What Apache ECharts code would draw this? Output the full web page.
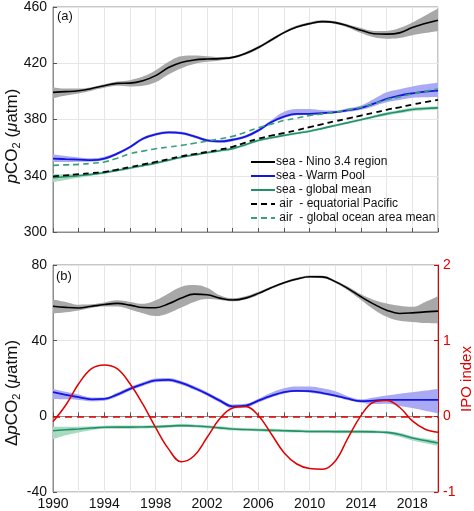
<!DOCTYPE html>
<html>
<head>
<meta charset="utf-8">
<script src="https://cdn.jsdelivr.net/npm/echarts@6/dist/echarts.min.js"></script>
<style>
  html, body { margin: 0; padding: 0; background: #fff; }
  #main { width: 474px; height: 511px; }
</style>
</head>
<body>
<div id="main"></div>
<script>
var years = ['1990','1991','1992','1993','1994','1995','1996','1997','1998','1999',
             '2000','2001','2002','2003','2004','2005','2006','2007','2008','2009',
             '2010','2011','2012','2013','2014','2015','2016','2017','2018','2019','2020'];

// (a) pCO2, uatm
var ninoSea = [399.3,399.8,400.5,402,404,405.7,405.9,407.6,411.2,417,420.6,422.3,423,423.3,424.2,427,431.2,436.5,441.8,445.8,448.2,449.6,448.9,446.5,443.5,441,440.7,441.6,445.4,448.2,450.6];
var ninoSeaLo = [395,397,398.5,400.5,402.5,404,403.5,404,406.5,412,416.5,419.5,421,422,423.3,426,430.2,435.5,441,445,447.3,448.8,448,445.3,441.5,438.5,437.5,438,440,441.5,443];
var ninoSeaHi = [403,402,402,403,405,407,408,410.5,415,421,425,425.5,425,424.5,425,428,432.2,437.5,442.8,446.8,449.2,450.5,449.8,447.5,445,443,443,445,449,454,459];

var poolSea = [352.2,351.8,351.5,351.1,352.2,355.7,360.4,366.3,369.4,370.8,370.3,368,365.1,364.4,365.6,367.8,372.2,378.1,382.1,384,384,384.5,385.2,386.6,388.3,391.3,394.7,397,398.6,399.8,400.5];
var poolSeaLo = [349.8,349.8,350,350,351.2,354.7,359.4,365.3,368.4,369.8,369.3,367,364.1,363.4,364.6,366.8,371.2,377.1,381,383,383.2,383.8,384.5,385.5,387,389.5,392.3,393.8,395.4,395.8,396];
var poolSeaHi = [355.3,354,353,352.5,353.5,356.7,361.4,367.3,370.4,371.8,371.3,369,366.1,365.4,366.6,368.8,373.4,379.5,385.5,387.5,387.5,386.5,386.3,388,390,394.5,399.3,401.5,403.4,405,406.4];

var globSea = [338.7,339.3,340,341,342.1,343.8,345.5,347.2,349,351.1,353.2,354.8,356.4,357.8,359.3,362,365.1,367,368.7,370.2,371.7,373.7,375.8,377.8,379.8,382,384,385.6,387.1,387.8,388.3];
var globSeaLo = [335.5,337,338.5,340.2,341.3,343,344.7,346.4,348.2,350.3,352.4,354,355.6,357,358.5,361.2,364.3,366.2,367.9,369.4,370.9,372.9,375,377,379,381,382.8,384.4,385.9,386.6,387.1];
var globSeaHi = [341.5,341,341,341.8,342.9,344.6,346.3,348,349.8,351.9,354,355.6,357.2,358.6,360.1,362.8,365.9,367.8,369.5,371,372.5,374.5,376.6,378.6,380.6,383,385.2,386.8,388.3,389,389.5];

var airEqPac = [339.6,340.3,341.1,341.9,342.7,344.4,346.2,348,349.8,351.8,353.8,355.4,356.9,358.6,360.6,363.6,366.4,368.5,370.4,372.4,374.6,376.7,378.8,380.8,382.8,384.8,386.9,388.7,390.6,392.3,394];
var airGlobal = [347.4,347.7,348.1,348.8,349.8,352.5,355.7,357.5,359.2,360.4,361.6,363.1,364.6,366.3,368,371,374.1,376.7,379.3,381,382.8,384,385.2,387,388.7,391.3,394,396.1,398.2,400,401.7];

// (b) delta pCO2, uatm
var ninoDelta = [58.2,57.6,57.3,58.2,59.1,59.7,58.8,57.5,57.4,59.5,62.5,64.6,64.3,62.5,61.5,62.5,65,68,70.6,72.6,73.8,73.7,71.2,67.5,63.2,59.3,56.1,54.4,54.7,55.2,55.6];
var ninoDeltaLo = [54.4,55,56,57.3,58,58,56.5,54.5,53,54.5,57.5,60.5,62,61.5,60.8,61.8,64.2,67.3,70,72,73.2,73,70.5,66.5,61.5,56.5,52.6,50.5,49.9,49.3,49];
var ninoDeltaHi = [61.8,60.5,59,59.2,60.2,61.3,60.5,59.5,61.4,65,68.5,69.4,68,64,62.5,63.5,65.8,68.7,71.2,73.2,74.4,74.3,71.8,68.5,64.5,61.5,59.7,58.5,57.9,60.5,63.5];

var poolDelta = [12.8,11.3,10.1,9,9.2,11.5,14.5,17,19,19.3,17.7,15,11.9,8.3,5.3,5.6,8.3,10.8,12.8,13.5,13.3,12.3,11,9.3,8,8.3,8.7,8.7,8.7,8.7,8.7];
var poolDeltaLo = [9.2,9,8.7,8,8.3,10.5,13.5,16,18,18.3,16.7,14,10.9,7.3,4.3,4.6,7.3,10,12,12.8,12.5,11.5,10.2,8.5,7.2,6.5,6.7,5.5,4.4,3,1.6];
var poolDeltaHi = [14.5,13,11.5,10,10,12.5,15.5,18,20,20.3,18.7,16,12.9,9.3,6.3,6.6,9.3,12.5,14.8,15.8,15.8,14.8,13.2,10.5,9,10,11,12,12.7,13.6,14.5];

var globDelta = [-7.6,-7.1,-6.7,-6.2,-5.8,-5.7,-5.7,-5.6,-5.5,-5.2,-4.9,-5.1,-5.5,-6.1,-6.7,-7,-7.2,-7.4,-7.6,-7.8,-8,-8,-8.1,-8.1,-8.1,-8.2,-8.5,-9.6,-11.5,-12.8,-14.1];
var globDeltaLo = [-12,-10,-8.5,-7.3,-6.6,-6.5,-6.5,-6.4,-6.3,-6,-5.7,-5.9,-6.3,-6.9,-7.5,-7.8,-8,-8.2,-8.4,-8.6,-8.8,-8.8,-8.9,-8.9,-8.9,-9,-9.3,-10.8,-12.8,-14.2,-15.6];
var globDeltaHi = [-5.5,-5.5,-5.5,-5.3,-5,-4.9,-4.9,-4.8,-4.7,-4.4,-4.1,-4.3,-4.7,-5.3,-5.9,-6.2,-6.4,-6.6,-6.8,-7,-7.2,-7.2,-7.3,-7.3,-7.3,-7.4,-7.8,-8.7,-10.5,-11.7,-12.9];

// IPO index (right axis)
var ipo = [-0.07,0.15,0.43,0.63,0.68,0.63,0.43,0.16,-0.15,-0.43,-0.6,-0.52,-0.28,-0.03,0.11,0.13,0.01,-0.23,-0.48,-0.63,-0.69,-0.7,-0.59,-0.28,0.01,0.19,0.21,0.12,-0.06,-0.17,-0.21];

var yTicksTop = [300, 340, 380, 420, 460];
var yTicksBot = [-40, 0, 40, 80];
var ipoTicks = [-1, 0, 1, 2];

var FONT = '"Liberation Sans", Arial, Helvetica, sans-serif';
var GRIDC = '#e6e6e6';
var AXC = '#8c8c8c';
var RED = '#e00000';

var chart = echarts.init(document.getElementById('main'), null, {renderer: 'canvas'});

function band(name, lo, hi, color, xi, yi) {
  var diff = hi.map(function (h, i) { return +(h - lo[i]).toFixed(3); });
  var common = {
    type: 'line', xAxisIndex: xi, yAxisIndex: yi, stack: name, stackStrategy: 'all',
    symbol: 'none', smooth: 0.4, silent: true, z: 1,
    lineStyle: { opacity: 0 }
  };
  return [
    Object.assign({ name: name + '_lo', data: lo }, common),
    Object.assign({ name: name + '_band', data: diff, areaStyle: { color: color, opacity: 1 } }, common)
  ];
}

function line(name, data, color, width, xi, yi, dashed) {
  return {
    name: name, type: 'line', xAxisIndex: xi, yAxisIndex: yi, data: data,
    symbol: 'none', smooth: 0.4, z: 3,
    itemStyle: { color: color },
    lineStyle: { color: color, width: width, type: dashed ? [6, 4] : 'solid' }
  };
}

var GRAY_BAND = '#a8a8a8';
var BLUE_BAND = '#a9a9f4';
var GREEN_BAND = '#a8dcc2';
var BLACK = '#000000';
var BLUE = '#1515e0';
var GREEN = '#24906a';
var GREEN_D = '#35a07a';

var series = [].concat(
  band('a_nino', ninoSeaLo, ninoSeaHi, GRAY_BAND, 0, 0),
  band('a_pool', poolSeaLo, poolSeaHi, BLUE_BAND, 0, 0),
  band('a_glob', globSeaLo, globSeaHi, GREEN_BAND, 0, 0),
  [
    line('sea - Nino 3.4 region', ninoSea, BLACK, 1.6, 0, 0),
    line('sea - Warm Pool', poolSea, BLUE, 1.8, 0, 0),
    line('sea - global mean', globSea, GREEN, 1.6, 0, 0),
    line(' air  - equatorial Pacific', airEqPac, BLACK, 1.8, 0, 0, true),
    line(' air  - global ocean area mean', airGlobal, GREEN_D, 1.6, 0, 0, true)
  ],
  band('b_nino', ninoDeltaLo, ninoDeltaHi, GRAY_BAND, 1, 1),
  band('b_pool', poolDeltaLo, poolDeltaHi, BLUE_BAND, 1, 1),
  band('b_glob', globDeltaLo, globDeltaHi, GREEN_BAND, 1, 1),
  [
    line('Δ Nino 3.4', ninoDelta, BLACK, 1.6, 1, 1),
    line('Δ Warm Pool', poolDelta, BLUE, 1.8, 1, 1),
    line('Δ global mean', globDelta, GREEN, 1.6, 1, 1)
  ]
);

var ipoSeries = line('IPO index', ipo, RED, 1.5, 1, 2);
ipoSeries.markLine = {
  silent: true, symbol: 'none', label: { show: false },
  lineStyle: { color: RED, type: [7, 5], width: 1.6 },
  data: [{ yAxis: 0 }]
};
series.push(ipoSeries);

function xAxis(gridIndex, showLabels) {
  return {
    type: 'category', gridIndex: gridIndex, data: years, boundaryGap: false,
    axisLine: { lineStyle: { color: AXC } },
    axisTick: { inside: true, length: 4, interval: 1, lineStyle: { color: '#555' } },
    axisLabel: { show: showLabels, interval: 3, color: '#111', fontSize: 14, fontFamily: FONT, margin: 5 },
    splitLine: { show: true, interval: 1, lineStyle: { color: GRIDC } }
  };
}

function yAxisLeft(gridIndex, ticks) {
  return {
    type: 'value', gridIndex: gridIndex, position: 'left',
    min: ticks[0], max: ticks[ticks.length - 1], interval: ticks[1] - ticks[0],
    axisLine: { show: true, lineStyle: { color: AXC } },
    axisTick: { show: true, inside: true, length: 4, lineStyle: { color: '#555' } },
    axisLabel: { color: '#111', fontSize: 14, fontFamily: FONT, margin: 6 },
    splitLine: { show: true, lineStyle: { color: GRIDC } }
  };
}

var option = {
  animation: false,
  backgroundColor: '#fff',
  textStyle: { fontFamily: FONT },
  grid: [
    { left: 53, right: 36, top: 6, height: 226, show: true, borderColor: AXC, borderWidth: 1 },
    { left: 53, right: 36, top: 265, height: 227, show: true, borderColor: AXC, borderWidth: 1 }
  ],
  xAxis: [xAxis(0, false), xAxis(1, true)],
  yAxis: [
    yAxisLeft(0, yTicksTop),
    yAxisLeft(1, yTicksBot),
    {
      type: 'value', gridIndex: 1, position: 'right',
      min: ipoTicks[0], max: ipoTicks[ipoTicks.length - 1], interval: 1,
      axisLine: { show: true, lineStyle: { color: RED } },
      axisTick: { show: true, inside: true, length: 4, lineStyle: { color: RED } },
      axisLabel: { color: RED, fontSize: 14, fontFamily: FONT, margin: 5 },
      splitLine: { show: false }
    }
  ],
  legend: {
    data: ['sea - Nino 3.4 region', 'sea - Warm Pool', 'sea - global mean',
           ' air  - equatorial Pacific', ' air  - global ocean area mean'],
    orient: 'vertical', left: 250, top: 156,
    itemWidth: 24, itemHeight: 12, itemGap: 2,
    padding: 0,
    itemStyle: { opacity: 0, color: 'rgba(0,0,0,0)', borderWidth: 0 },
    textStyle: { fontSize: 12, color: '#111', fontFamily: FONT, padding: [0, 0, 0, -4] },
    selectedMode: false
  },
  graphic: [
    { type: 'text', left: 57, top: 10, style: { text: '(a)', font: '13px ' + FONT, fill: '#111' } },
    { type: 'text', left: 56, top: 270, style: { text: '(b)', font: '13px ' + FONT, fill: '#111' } },
    {
      type: 'text', x: 12, y: 136, rotation: Math.PI / 2,
      style: {
        text: '{i|p}CO{s|2} ({i|μ}atm)', align: 'center', verticalAlign: 'middle',
        font: '17px ' + FONT, fill: '#111',
        rich: {
          i: { fontStyle: 'italic', fontSize: 17, fontFamily: FONT, lineHeight: 20, fill: '#111' },
          s: { fontSize: 11, fontFamily: FONT, lineHeight: 9, verticalAlign: 'bottom', fill: '#111' }
        }
      }
    },
    {
      type: 'text', x: 12, y: 393, rotation: Math.PI / 2,
      style: {
        text: 'Δ{i|p}CO{s|2} ({i|μ}atm)', align: 'center', verticalAlign: 'middle',
        font: '17px ' + FONT, fill: '#111',
        rich: {
          i: { fontStyle: 'italic', fontSize: 17, fontFamily: FONT, lineHeight: 20, fill: '#111' },
          s: { fontSize: 11, fontFamily: FONT, lineHeight: 9, verticalAlign: 'bottom', fill: '#111' }
        }
      }
    },
    {
      type: 'text', x: 467, y: 379, rotation: Math.PI / 2,
      style: { text: 'IPO index', align: 'center', verticalAlign: 'middle', font: '15px ' + FONT, fill: RED }
    }
  ],
  series: series
};

chart.setOption(option);
</script>
</body>
</html>
